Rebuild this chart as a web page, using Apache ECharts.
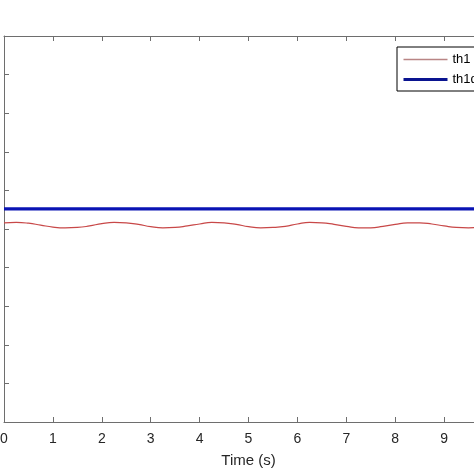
<!DOCTYPE html>
<html>
<head>
<meta charset="utf-8">
<script src="https://cdn.jsdelivr.net/npm/echarts@6/dist/echarts.min.js"></script>
<style>html,body{margin:0;padding:0;background:#fff}#c{width:474px;height:474px}</style>
</head>
<body>
<div id="c"></div>
<script>
var times = [0,0.25,0.5,0.75,1,1.25,1.5,1.75,2,2.25,2.5,2.75,3,3.25,3.5,3.75,4,4.25,4.5,4.75,5,5.25,5.5,5.75,6,6.25,6.5,6.75,7,7.25,7.5,7.75,8,8.25,8.5,8.75,9,9.25,9.5,9.75,10];
var th1 = [5.16,5.17,5.15,5.10,5.05,5.03,5.04,5.08,5.14,5.17,5.16,5.12,5.06,5.03,5.04,5.08,5.13,5.17,5.16,5.12,5.06,5.03,5.04,5.07,5.13,5.17,5.16,5.12,5.07,5.03,5.03,5.07,5.12,5.16,5.16,5.13,5.08,5.04,5.03,5.05,5.09];
var th1d = [5.52,5.52];
var th1dTimes = [0,10];
var xTicks = [0,1,2,3,4,5,6,7,8,9,10];
var seriesNames = ['th1','th1d'];

var chart = echarts.init(document.getElementById('c'));
var axisColor = '#6e6e6e';
var textColor = '#262626';
chart.setOption({
  animation: false,
  grid: {left: 4, top: 36, width: 489, height: 386, containLabel: false, outerBoundsMode: 'none'},
  legend: {
    orient: 'vertical', left: 397, top: 47,
    data: [
      {name: seriesNames[0], lineStyle: {color: '#b98585', width: 1.5}},
      {name: seriesNames[1], lineStyle: {color: '#0a1490', width: 3}}
    ],
    borderColor: '#000', borderWidth: 1, backgroundColor: '#fff',
    padding: [6, 8, 5, 5], itemWidth: 44, itemHeight: 10, itemGap: 7,
    itemStyle: {opacity: 0},
    textStyle: {fontFamily: 'Liberation Sans, Arial', fontSize: 13, color: '#000'}
  },
  xAxis: [{
    type: 'value', min: 0, max: 10, interval: 1,
    name: 'Time (s)', nameLocation: 'middle', nameGap: 31,
    nameTextStyle: {fontFamily: 'Liberation Sans, Arial', fontSize: 15, color: textColor},
    axisLine: {show: true, lineStyle: {color: axisColor}},
    axisTick: {show: true, inside: true, length: 5, lineStyle: {color: axisColor}},
    axisLabel: {fontFamily: 'Liberation Sans, Arial', fontSize: 14, color: textColor, margin: 10,
      formatter: function(v){ return xTicks.indexOf(v) >= 0 ? String(v) : ''; }},
    splitLine: {show: false}
  }, {
    type: 'value', position: 'top', min: 0, max: 10, interval: 1,
    axisLine: {show: true, lineStyle: {color: axisColor}},
    axisTick: {show: true, inside: true, length: 5, lineStyle: {color: axisColor}},
    axisLabel: {show: false}, splitLine: {show: false}
  }],
  yAxis: [{
    type: 'value', min: 0, max: 10, interval: 1,
    axisLine: {show: true, lineStyle: {color: axisColor}},
    axisTick: {show: true, inside: true, length: 5, lineStyle: {color: axisColor}},
    axisLabel: {show: false}, splitLine: {show: false}
  }],
  series: [{
    name: 'th1', type: 'line', smooth: true, symbol: 'none',
    data: times.map(function(t, i){ return [t, th1[i]]; }),
    lineStyle: {color: '#c84848', width: 1.2},
    itemStyle: {color: '#b98585'}, z: 3
  }, {
    name: 'th1d', type: 'line', symbol: 'none',
    data: th1dTimes.map(function(t, i){ return [t, th1d[i]]; }),
    lineStyle: {color: '#0a14b4', width: 3.2},
    itemStyle: {color: '#0a1490'}, z: 2
  }]
});
</script>
</body>
</html>
